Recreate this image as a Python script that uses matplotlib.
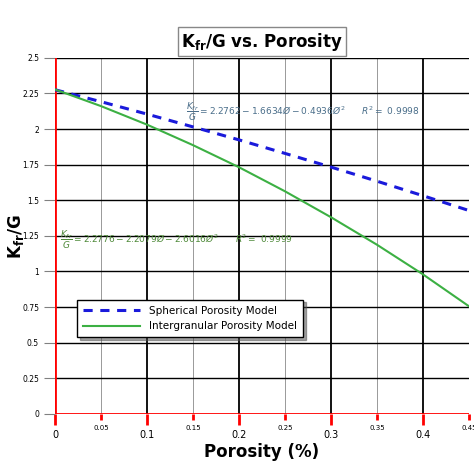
import matplotlib
matplotlib.use("Agg")
import matplotlib.pyplot as plt
import numpy as np

porosity = [0, 0.05, 0.1, 0.15, 0.2, 0.25, 0.3, 0.35, 0.4, 0.45]
spherical = [2.276, 2.192, 2.105, 2.015, 1.924, 1.829, 1.733, 1.634, 1.532, 1.428]
intergranular = [2.278, 2.161, 2.031, 1.887, 1.732, 1.563, 1.381, 1.188, 0.980, 0.756]
major_x = [0, 0.1, 0.2, 0.3, 0.4]
minor_x = [0.05, 0.15, 0.25, 0.35, 0.45]
y_ticks = [0, 0.25, 0.5, 0.75, 1, 1.25, 1.5, 1.75, 2, 2.25, 2.5]

fig = plt.figure(figsize=(4.74, 4.74), dpi=100)
ax = fig.add_axes([0.116, 0.127, 0.873, 0.751])
ax.set_xlim(0, 0.45)
ax.set_ylim(0, 2.5)
for x in major_x[1:]:
    ax.axvline(x, color='black', lw=1.3, zorder=1)
for x in minor_x[:-1]:
    ax.axvline(x, color='#999999', lw=0.7, zorder=1)
for y in y_ticks[1:]:
    ax.axhline(y, color='black', lw=1.0, zorder=1)
ax.axvline(0, color='red', lw=2, zorder=3)
ax.axhline(0, color='red', lw=2, zorder=3)
for s in ax.spines.values():
    s.set_visible(False)

ax.plot(porosity, spherical, color='#1a1adb', lw=2.2, ls=(0, (3, 2.5)), zorder=4,
        label='Spherical Porosity Model')
ax.plot(porosity, intergranular, color='#3cb043', lw=1.5, zorder=4,
        label='Intergranular Porosity Model')

ax.set_xticks(major_x)
ax.set_xticklabels(['0', '0.1', '0.2', '0.3', '0.4'], fontsize=7)
ax.set_xticks(minor_x, minor=True)
ax.set_xticklabels(['0.05', '0.15', '0.25', '0.35', '0.45'], minor=True, fontsize=5)
ax.tick_params(axis='x', which='major', length=8, color='red', width=2, pad=4)
ax.tick_params(axis='x', which='minor', length=4, color='red', width=2, pad=4)
ax.set_yticks(y_ticks)
ax.set_yticklabels(['0', '0.25', '0.5', '0.75', '1', '1.25', '1.5', '1.75', '2', '2.25', '2.5'], fontsize=5.5)
ax.tick_params(axis='y', length=8, color='gray', width=0.8)

ax.set_xlabel('Porosity (%)', fontsize=12, fontweight='bold', labelpad=2)
fig.text(0.012, 0.5, r'K$_{\mathregular{fr}}$/G', fontsize=12, fontweight='bold',
         rotation=90, va='center', ha='left')
ax.set_title(r'K$_{\mathregular{fr}}$/G vs. Porosity', fontsize=12, fontweight='bold', pad=8,
             bbox=dict(facecolor='white', edgecolor='#888888', boxstyle='square,pad=0.2'))

ax.text(0.143, 2.1, r'$\dfrac{K_{fr}}{G} = 2.2762 - 1.6634\O - 0.4936\O^2$      $R^2 =\ 0.9998$',
        fontsize=6.5, color='#4a6e8a', zorder=5)
ax.text(0.005, 1.2, r'$\dfrac{K_{fr}}{G} = 2.2776 - 2.2079\O - 2.6016\O^2$      $R^2 =\ 0.9999$',
        fontsize=6.5, color='#4f8a3a', zorder=5)

leg = ax.legend(loc='lower left', bbox_to_anchor=(0.04, 0.2), fontsize=7.5, frameon=True,
                fancybox=False, edgecolor='black', framealpha=1, handlelength=5.5,
                shadow=True, borderpad=0.6)
leg.set_zorder(6)
fig.savefig('out.png', dpi=100)
